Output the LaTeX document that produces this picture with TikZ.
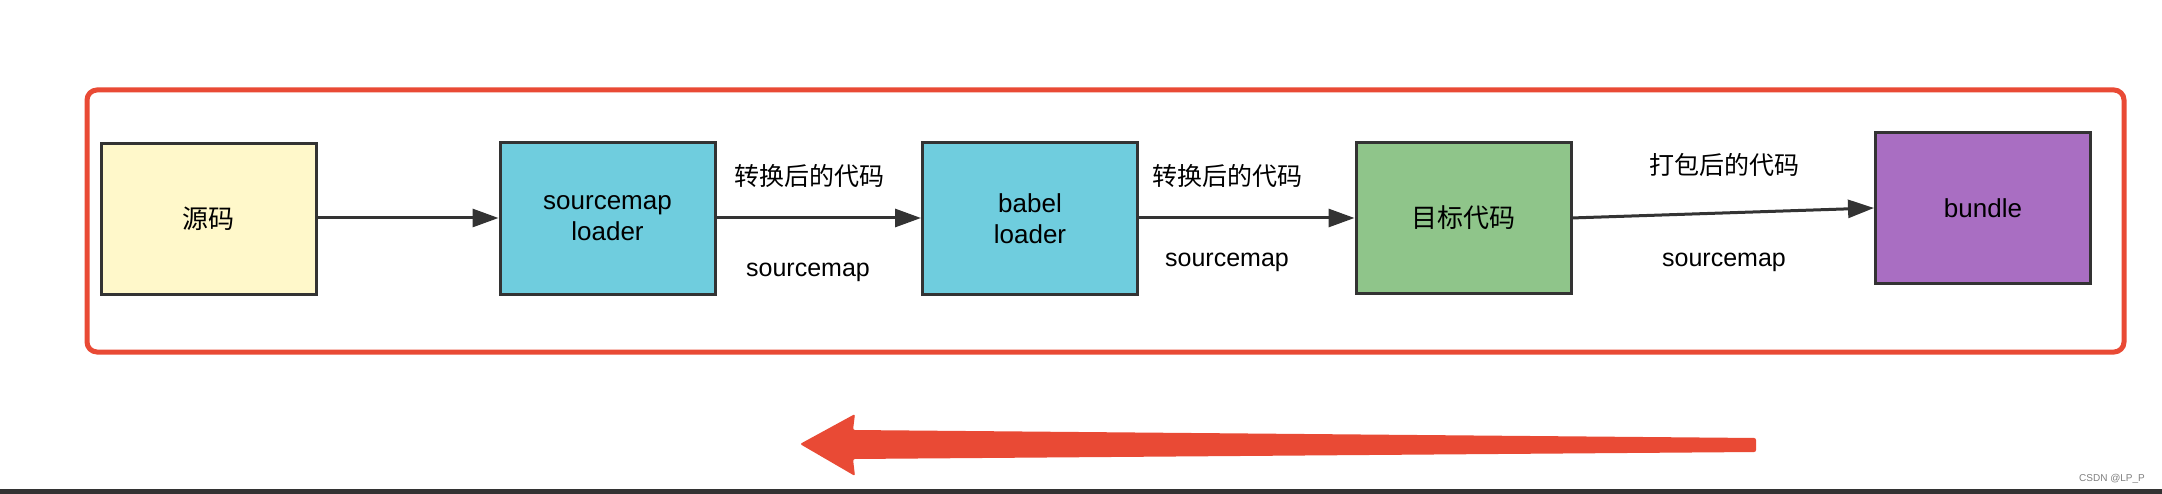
\documentclass[tikz,border=0pt]{standalone}
\usepackage{fontspec}
\setmainfont{Liberation Sans}
\newfontfamily\cjk{Noto Sans CJK SC}
\usetikzlibrary{arrows.meta}
\definecolor{frame}{HTML}{E94A35}
\definecolor{cy}{HTML}{6FCDDE}
\definecolor{yl}{HTML}{FFF8CA}
\definecolor{gr}{HTML}{8FC58A}
\definecolor{pu}{HTML}{A96EC2}
\definecolor{dk}{HTML}{333333}
\tikzset{
 box/.style={draw=dk,line width=3pt,minimum width=215pt,minimum height=151pt,inner sep=0pt,align=center,font=\fontsize{26}{31}\selectfont},
 conn/.style={draw=dk,line width=3pt,-{Triangle[length=26pt,width=18pt]}},
 lab/.style={font=\fontsize{25}{30}\selectfont}
}
\begin{document}
\begin{tikzpicture}[x=1pt,y=-1pt]
\fill[white] (0,0) rectangle (2162,494);
\useasboundingbox (0,0) rectangle (2162,494);
\fill[dk] (0,489) rectangle (2162,494);
\draw[frame,line width=5pt,rounded corners=10pt] (87,90) rectangle (2124,352);
\node[box,fill=yl] (src) at (208.5,219) {\cjk 源码};
\node[box,fill=cy] (sml) at (607.5,218.5) {sourcemap\\loader};
\node[box,fill=cy] (bl) at (1030,218.5) {babel\\loader};
\node[box,fill=gr] (tgt) at (1463.5,218) {\cjk 目标代码};
\node[box,fill=pu] (bun) at (1983,208) {bundle};
\draw[conn] (src.east |- 0,218) -- (sml.west |- 0,218);
\draw[conn] (sml.east |- 0,218) -- (bl.west |- 0,218);
\draw[conn] (bl.east |- 0,218) -- (tgt.west |- 0,218);
\coordinate (a) at (1571,218);
\coordinate (b) at (1874,208);
\draw[conn] (a) -- (b);
\node[lab] (l1) at (809,176) {\cjk 转换后的代码};
\node[lab] (l2) at (808,272) {sourcemap};
\node[lab] (l3) at (1227,176) {\cjk 转换后的代码};
\node[lab] (l4) at (1227,262) {sourcemap};
\node[lab] (l5) at (1724,165) {\cjk 打包后的代码};
\node[lab] (l6) at (1724,262) {sourcemap};
\fill[frame,rounded corners=2pt] (1756,438) -- (1756,452) -- (853,459) -- (855,476) -- (800,444) -- (855,414) -- (853,430) -- cycle;
\node[font=\fontsize{10}{12}\selectfont,text=gray] (wm) at (2112,479) {CSDN @LP\_P};
\end{tikzpicture}
\end{document}
